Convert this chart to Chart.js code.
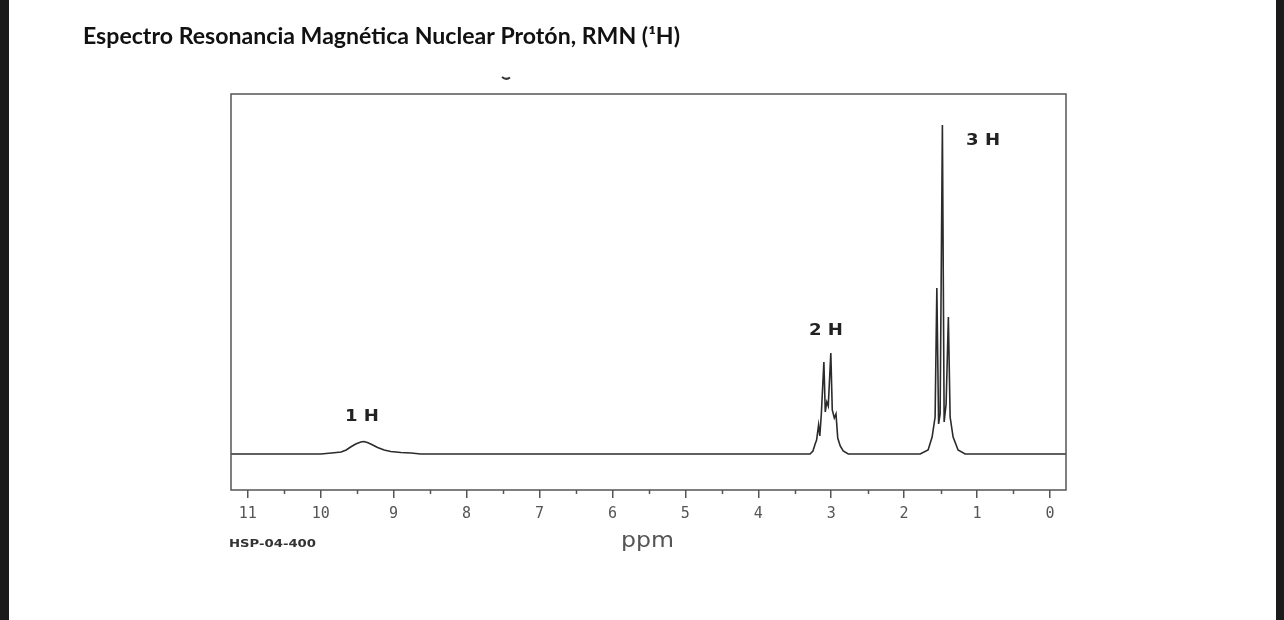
<!DOCTYPE html>
<html>
<head>
<meta charset="utf-8">
<script src="https://cdn.jsdelivr.net/npm/chart.js@4/dist/chart.umd.min.js"></script>
<style>
  html, body { margin: 0; padding: 0; background: #fff; }
  #wrap { position: relative; width: 1284px; height: 620px; overflow: hidden; background: #fff; }
  #c { position: absolute; left: 0; top: 0; }
  .band { position: absolute; top: 0; height: 620px; background: #1b1b1b; }
</style>
</head>
<body>
<div id="wrap">
  <canvas id="c" width="1284" height="620"></canvas>
  <div class="band" style="left:0;width:9px"></div>
  <div class="band" style="left:1276px;width:8px"></div>
</div>
<script>
// ---- data (chemical shift in ppm, relative intensity) ----
const ppmValues = [
  11.23, 10.00, 9.85, 9.72, 9.65, 9.59, 9.52, 9.45, 9.41, 9.36, 9.30, 9.22, 9.13, 9.04, 8.90, 8.76, 8.63,
  3.29, 3.25, 3.22, 3.20, 3.173, 3.156, 3.135, 3.10, 3.081, 3.060, 3.040, 3.005, 2.985, 2.957, 2.934, 2.910, 2.876, 2.835, 2.766,
  1.78, 1.671, 1.616, 1.575, 1.551, 1.527, 1.506, 1.475, 1.451, 1.424, 1.393, 1.369, 1.328, 1.260, 1.164,
  -0.22
];
const intensityValues = [
  0, 0, 1, 2, 4, 7, 10, 12, 12.5, 11.5, 9.5, 6.5, 4, 2.5, 1.5, 1, 0,
  0, 3, 10, 14, 29, 18, 40, 92, 42, 52, 48, 101, 44, 36, 40, 16, 8, 3, 0,
  0, 4, 17, 37, 166, 30, 40, 329, 32, 50, 137, 37, 17, 4, 0,
  0
];
const tickLabels = ['0','1','2','3','4','5','6','7','8','9','10','11'];
const peakLabels = ['1 H', '2 H', '3 H'];

// annotation placement (data space)
const peakLabelPpm = [9.434, 3.071, 0.918];
const peakLabelLevel = [37, 123, 313];

const titleText = 'Espectro Resonancia Magnética Nuclear Protón, RMN (¹H)';
const xTitle = 'ppm';
const codeText = 'HSP-04-400';

function fitText(ctx, text, x, y, targetW) {
  const w = ctx.measureText(text).width;
  ctx.save();
  ctx.translate(x, y);
  ctx.scale(targetW / w, 1);
  ctx.fillText(text, 0, 0);
  ctx.restore();
}

const decor = {
  id: 'decor',
  afterDraw(chart) {
    const ctx = chart.ctx;
    const a = chart.chartArea;
    const xs = chart.scales.x, ys = chart.scales.y;
    ctx.save();
    // frame
    ctx.strokeStyle = '#555';
    ctx.lineWidth = 1.5;
    ctx.strokeRect(a.left, a.top, a.right - a.left, a.bottom - a.top);
    // minor ticks
    ctx.lineWidth = 1.5;
    for (let k = 0; k < 11; k++) {
      const px = Math.round(xs.getPixelForValue(k + 0.5)) + 0.5;
      ctx.beginPath();
      ctx.moveTo(px, a.bottom);
      ctx.lineTo(px, a.bottom + 4);
      ctx.stroke();
    }
    // small scan mark above frame
    ctx.strokeStyle = '#333';
    ctx.lineWidth = 2;
    ctx.beginPath();
    ctx.moveTo(502, 77);
    ctx.quadraticCurveTo(506, 80.5, 510, 77.5);
    ctx.stroke();
    // title
    ctx.fillStyle = '#111';
    ctx.textBaseline = 'alphabetic';
    ctx.textAlign = 'left';
    ctx.font = 'bold 22px Lato';
    fitText(ctx, titleText, 83, 44, 597);
    // peak labels
    ctx.fillStyle = '#222';
    ctx.font = 'bold 16px "DejaVu Sans"';
    ctx.textAlign = 'left';
    ctx.textBaseline = 'middle';
    peakLabels.forEach((t, i) => {
      const cx = xs.getPixelForValue(peakLabelPpm[i]);
      const cy = ys.getPixelForValue(peakLabelLevel[i]);
      fitText(ctx, t, cx - 17, cy, 34);
    });
    // axis title
    ctx.fillStyle = '#555';
    ctx.font = '21px "DejaVu Sans"';
    ctx.textAlign = 'left';
    ctx.textBaseline = 'middle';
    fitText(ctx, xTitle, 621, 542, 53);
    // code label
    ctx.fillStyle = '#333';
    ctx.font = 'bold 10px "DejaVu Sans"';
    fitText(ctx, codeText, 229, 544, 87);
    ctx.restore();
  }
};

const points = ppmValues.map((p, i) => ({ x: p, y: intensityValues[i] }));

new Chart(document.getElementById('c'), {
  type: 'scatter',
  data: {
    datasets: [{
      data: points,
      showLine: true,
      borderColor: '#2b2b2b',
      borderWidth: 1.6,
      pointRadius: 0,
      tension: 0,
      fill: false
    }]
  },
  options: {
    responsive: false,
    animation: false,
    events: [],
    layout: { padding: { left: 231, right: 218, top: 94, bottom: 90 } },
    plugins: { legend: { display: false }, tooltip: { enabled: false }, title: { display: false } },
    scales: {
      x: {
        type: 'linear',
        reverse: true,
        min: -0.22,
        max: 11.23,
        afterBuildTicks(scale) {
          scale.ticks = tickLabels.map(t => ({ value: Number(t) }));
        },
        border: { display: false },
        grid: { drawOnChartArea: false, drawTicks: true, tickLength: 8, color: '#555', lineWidth: 1.5 },
        ticks: {
          autoSkip: false,
          maxRotation: 0,
          padding: 7,
          color: '#555',
          font: { family: '"DejaVu Sans Mono"', size: 15 },
          callback: (v) => String(v)
        }
      },
      y: {
        type: 'linear',
        display: false,
        min: -36,
        max: 360
      }
    }
  },
  plugins: [decor]
});
</script>
</body>
</html>
